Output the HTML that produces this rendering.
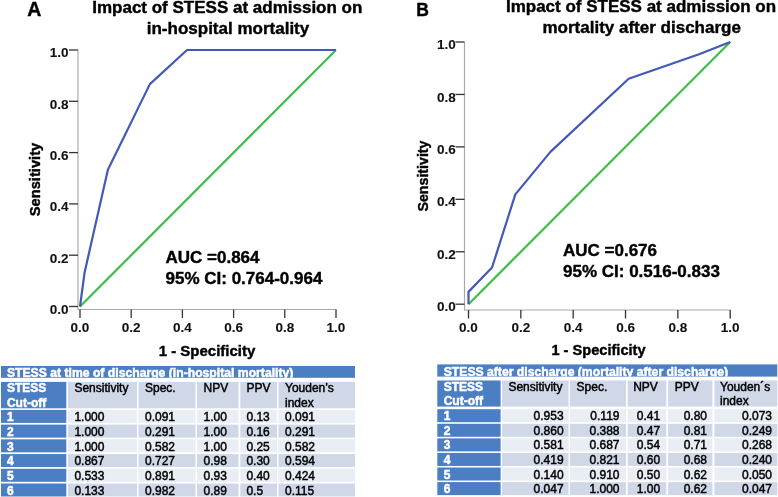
<!DOCTYPE html>
<html><head><meta charset="utf-8"><style>
html,body{margin:0;padding:0;background:#fff;}
body{width:778px;height:497px;overflow:hidden;position:relative;}
svg{display:block;position:absolute;left:0;top:0;filter:blur(0.35px);}
text{font-family:"Liberation Sans",sans-serif;fill:#000;stroke:#000;stroke-width:0.45px;}
.b{font-weight:bold;stroke-width:0.4px;}
.tk{font-weight:bold;font-size:13.5px;fill:#111;stroke:#111;stroke-width:0.1px;}
.tt{font-weight:bold;font-size:12.2px;fill:#fff;stroke:#fff;stroke-width:0.5px;}
.th0{font-weight:bold;font-size:12px;fill:#fff;stroke:#fff;stroke-width:0.5px;}
.td{font-size:12px;fill:#000;}
</style></head><body>
<svg width="778" height="497" viewBox="0 0 778 497">
<path d="M78 50V309.5H336.5" fill="none" stroke="#a8a8a8" stroke-width="1.15"/>
<path d="M69 306.5H78" stroke="#333333" stroke-width="1.3"/>
<text x="68.5" y="313.9" class="tk" text-anchor="end">0.0</text>
<path d="M80 309.5V318" stroke="#333333" stroke-width="1.3"/>
<text x="80" y="332.2" class="tk" text-anchor="middle">0.0</text>
<path d="M69 255.2H78" stroke="#333333" stroke-width="1.3"/>
<text x="68.5" y="262.6" class="tk" text-anchor="end">0.2</text>
<path d="M131.2 309.5V318" stroke="#333333" stroke-width="1.3"/>
<text x="131.2" y="332.2" class="tk" text-anchor="middle">0.2</text>
<path d="M69 203.9H78" stroke="#333333" stroke-width="1.3"/>
<text x="68.5" y="211.3" class="tk" text-anchor="end">0.4</text>
<path d="M182.4 309.5V318" stroke="#333333" stroke-width="1.3"/>
<text x="182.4" y="332.2" class="tk" text-anchor="middle">0.4</text>
<path d="M69 152.6H78" stroke="#333333" stroke-width="1.3"/>
<text x="68.5" y="160" class="tk" text-anchor="end">0.6</text>
<path d="M233.6 309.5V318" stroke="#333333" stroke-width="1.3"/>
<text x="233.6" y="332.2" class="tk" text-anchor="middle">0.6</text>
<path d="M69 101.3H78" stroke="#333333" stroke-width="1.3"/>
<text x="68.5" y="108.7" class="tk" text-anchor="end">0.8</text>
<path d="M284.8 309.5V318" stroke="#333333" stroke-width="1.3"/>
<text x="284.8" y="332.2" class="tk" text-anchor="middle">0.8</text>
<path d="M69 50H78" stroke="#333333" stroke-width="1.3"/>
<text x="68.5" y="57.4" class="tk" text-anchor="end">1.0</text>
<path d="M336 309.5V318" stroke="#333333" stroke-width="1.3"/>
<text x="336" y="332.2" class="tk" text-anchor="middle">1.0</text>
<path d="M80 306.5L336 50" stroke="#3dbd4a" stroke-width="2.2" fill="none"/>
<polyline points="80,306.5 84.61,272.39 107.9,169.79 149.89,84.11 187.01,50 261.5,50 312.7,50 336,50" stroke="#4259b6" stroke-width="2.2" fill="none" stroke-linejoin="round"/>
<text x="27.3" y="16.2" class="b" style="font-size:19.5px">A</text>
<text x="227.3" y="12.8" class="b" style="font-size:17px" text-anchor="middle">Impact of STESS at admission on</text>
<text x="228" y="34.4" class="b" style="font-size:17px" text-anchor="middle">in-hospital mortality</text>
<text x="165.5" y="263.4" class="b" style="font-size:17px">AUC =0.864</text>
<text x="165.5" y="284.4" class="b" style="font-size:17px">95% CI: 0.764-0.964</text>
<text transform="translate(39.8 179.5) rotate(-90)" text-anchor="middle" class="b" style="font-size:14.7px">Sensitivity</text>
<text x="207" y="355.5" text-anchor="middle" class="b" style="font-size:15px">1 - Specificity</text>
<path d="M464.5 42V310H730.7" fill="none" stroke="#a8a8a8" stroke-width="1.15"/>
<path d="M455.5 304.2H464.5" stroke="#333333" stroke-width="1.3"/>
<text x="455.8" y="311.3" class="tk" text-anchor="end">0.0</text>
<path d="M468.5 310V318.5" stroke="#333333" stroke-width="1.3"/>
<text x="468.5" y="332.2" class="tk" text-anchor="middle">0.0</text>
<path d="M455.5 251.76H464.5" stroke="#333333" stroke-width="1.3"/>
<text x="455.8" y="258.86" class="tk" text-anchor="end">0.2</text>
<path d="M520.84 310V318.5" stroke="#333333" stroke-width="1.3"/>
<text x="520.84" y="332.2" class="tk" text-anchor="middle">0.2</text>
<path d="M455.5 199.32H464.5" stroke="#333333" stroke-width="1.3"/>
<text x="455.8" y="206.42" class="tk" text-anchor="end">0.4</text>
<path d="M573.18 310V318.5" stroke="#333333" stroke-width="1.3"/>
<text x="573.18" y="332.2" class="tk" text-anchor="middle">0.4</text>
<path d="M455.5 146.88H464.5" stroke="#333333" stroke-width="1.3"/>
<text x="455.8" y="153.98" class="tk" text-anchor="end">0.6</text>
<path d="M625.52 310V318.5" stroke="#333333" stroke-width="1.3"/>
<text x="625.52" y="332.2" class="tk" text-anchor="middle">0.6</text>
<path d="M455.5 94.44H464.5" stroke="#333333" stroke-width="1.3"/>
<text x="455.8" y="101.54" class="tk" text-anchor="end">0.8</text>
<path d="M677.86 310V318.5" stroke="#333333" stroke-width="1.3"/>
<text x="677.86" y="332.2" class="tk" text-anchor="middle">0.8</text>
<path d="M455.5 42H464.5" stroke="#333333" stroke-width="1.3"/>
<text x="455.8" y="49.1" class="tk" text-anchor="end">1.0</text>
<path d="M730.2 310V318.5" stroke="#333333" stroke-width="1.3"/>
<text x="730.2" y="332.2" class="tk" text-anchor="middle">1.0</text>
<path d="M468.5 304.2L730.2 42" stroke="#3dbd4a" stroke-width="2.2" fill="none"/>
<polyline points="468.5,304.2 468.5,291.88 492.05,267.49 515.34,194.34 550.41,151.86 628.66,78.71 699.06,54.32 730.2,42" stroke="#4259b6" stroke-width="2.2" fill="none" stroke-linejoin="round"/>
<text x="416.3" y="16.4" class="b" style="font-size:17.5px">B</text>
<text x="641" y="12" class="b" style="font-size:17px" text-anchor="middle">Impact of STESS at admission on</text>
<text x="641.7" y="33.2" class="b" style="font-size:17px" text-anchor="middle">mortality after discharge</text>
<text x="563" y="256.2" class="b" style="font-size:17px">AUC =0.676</text>
<text x="563" y="277" class="b" style="font-size:17px">95% CI: 0.516-0.833</text>
<text transform="translate(427.5 176) rotate(-90)" text-anchor="middle" class="b" style="font-size:14.2px">Sensitivity</text>
<text x="598.5" y="355" text-anchor="middle" class="b" style="font-size:14.6px">1 - Specificity</text>
<rect x="1" y="366" width="354" height="11.8" fill="#4b7ec2"/>
<clipPath id="ca"><rect x="1" y="366" width="354" height="11.8"/></clipPath>
<text x="6.9" y="377.2" class="tt" clip-path="url(#ca)">STESS at time of discharge (in-hospital mortality)</text>
<rect x="1" y="381.9" width="65.3" height="26.4" fill="#4b7ec2"/>
<text x="6.9" y="392" class="th0">STESS</text>
<text x="6.9" y="406.6" class="th0">Cut-off</text>
<rect x="68" y="381.9" width="69" height="26.4" fill="#d0d8e8"/>
<text x="74.4" y="392" class="td">Sensitivity</text>
<rect x="138.5" y="381.9" width="57" height="26.4" fill="#d0d8e8"/>
<text x="145" y="392" class="td">Spec.</text>
<rect x="197" y="381.9" width="41.5" height="26.4" fill="#d0d8e8"/>
<text x="203.5" y="392" class="td">NPV</text>
<rect x="240.3" y="381.9" width="36.7" height="26.4" fill="#d0d8e8"/>
<text x="246.4" y="392" class="td">PPV</text>
<rect x="278.5" y="381.9" width="76.5" height="26.4" fill="#d0d8e8"/>
<text x="285" y="392" class="td">Youden&#8217;s</text>
<text x="285" y="406.6" class="td">index</text>
<rect x="1" y="409.9" width="65.3" height="13" fill="#4b7ec2"/>
<text x="6.9" y="421.2" class="th0">1</text>
<rect x="68" y="409.9" width="69" height="13" fill="#e9edf4"/>
<text x="74.4" y="421.2" class="td">1.000</text>
<rect x="138.5" y="409.9" width="57" height="13" fill="#e9edf4"/>
<text x="145" y="421.2" class="td">0.091</text>
<rect x="197" y="409.9" width="41.5" height="13" fill="#e9edf4"/>
<text x="203.5" y="421.2" class="td">1.00</text>
<rect x="240.3" y="409.9" width="36.7" height="13" fill="#e9edf4"/>
<text x="246.4" y="421.2" class="td">0.13</text>
<rect x="278.5" y="409.9" width="76.5" height="13" fill="#e9edf4"/>
<text x="285" y="421.2" class="td">0.091</text>
<rect x="1" y="424.62" width="65.3" height="13" fill="#4b7ec2"/>
<text x="6.9" y="435.92" class="th0">2</text>
<rect x="68" y="424.62" width="69" height="13" fill="#d0d8e8"/>
<text x="74.4" y="435.92" class="td">1.000</text>
<rect x="138.5" y="424.62" width="57" height="13" fill="#d0d8e8"/>
<text x="145" y="435.92" class="td">0.291</text>
<rect x="197" y="424.62" width="41.5" height="13" fill="#d0d8e8"/>
<text x="203.5" y="435.92" class="td">1.00</text>
<rect x="240.3" y="424.62" width="36.7" height="13" fill="#d0d8e8"/>
<text x="246.4" y="435.92" class="td">0.16</text>
<rect x="278.5" y="424.62" width="76.5" height="13" fill="#d0d8e8"/>
<text x="285" y="435.92" class="td">0.291</text>
<rect x="1" y="439.34" width="65.3" height="13" fill="#4b7ec2"/>
<text x="6.9" y="450.64" class="th0">3</text>
<rect x="68" y="439.34" width="69" height="13" fill="#e9edf4"/>
<text x="74.4" y="450.64" class="td">1.000</text>
<rect x="138.5" y="439.34" width="57" height="13" fill="#e9edf4"/>
<text x="145" y="450.64" class="td">0.582</text>
<rect x="197" y="439.34" width="41.5" height="13" fill="#e9edf4"/>
<text x="203.5" y="450.64" class="td">1.00</text>
<rect x="240.3" y="439.34" width="36.7" height="13" fill="#e9edf4"/>
<text x="246.4" y="450.64" class="td">0.25</text>
<rect x="278.5" y="439.34" width="76.5" height="13" fill="#e9edf4"/>
<text x="285" y="450.64" class="td">0.582</text>
<rect x="1" y="454.06" width="65.3" height="13" fill="#4b7ec2"/>
<text x="6.9" y="465.36" class="th0">4</text>
<rect x="68" y="454.06" width="69" height="13" fill="#d0d8e8"/>
<text x="74.4" y="465.36" class="td">0.867</text>
<rect x="138.5" y="454.06" width="57" height="13" fill="#d0d8e8"/>
<text x="145" y="465.36" class="td">0.727</text>
<rect x="197" y="454.06" width="41.5" height="13" fill="#d0d8e8"/>
<text x="203.5" y="465.36" class="td">0.98</text>
<rect x="240.3" y="454.06" width="36.7" height="13" fill="#d0d8e8"/>
<text x="246.4" y="465.36" class="td">0.30</text>
<rect x="278.5" y="454.06" width="76.5" height="13" fill="#d0d8e8"/>
<text x="285" y="465.36" class="td">0.594</text>
<rect x="1" y="468.78" width="65.3" height="13" fill="#4b7ec2"/>
<text x="6.9" y="480.08" class="th0">5</text>
<rect x="68" y="468.78" width="69" height="13" fill="#e9edf4"/>
<text x="74.4" y="480.08" class="td">0.533</text>
<rect x="138.5" y="468.78" width="57" height="13" fill="#e9edf4"/>
<text x="145" y="480.08" class="td">0.891</text>
<rect x="197" y="468.78" width="41.5" height="13" fill="#e9edf4"/>
<text x="203.5" y="480.08" class="td">0.93</text>
<rect x="240.3" y="468.78" width="36.7" height="13" fill="#e9edf4"/>
<text x="246.4" y="480.08" class="td">0.40</text>
<rect x="278.5" y="468.78" width="76.5" height="13" fill="#e9edf4"/>
<text x="285" y="480.08" class="td">0.424</text>
<rect x="1" y="483.5" width="65.3" height="13" fill="#4b7ec2"/>
<text x="6.9" y="494.8" class="th0">6</text>
<rect x="68" y="483.5" width="69" height="13" fill="#d0d8e8"/>
<text x="74.4" y="494.8" class="td">0.133</text>
<rect x="138.5" y="483.5" width="57" height="13" fill="#d0d8e8"/>
<text x="145" y="494.8" class="td">0.982</text>
<rect x="197" y="483.5" width="41.5" height="13" fill="#d0d8e8"/>
<text x="203.5" y="494.8" class="td">0.89</text>
<rect x="240.3" y="483.5" width="36.7" height="13" fill="#d0d8e8"/>
<text x="246.4" y="494.8" class="td">0.5</text>
<rect x="278.5" y="483.5" width="76.5" height="13" fill="#d0d8e8"/>
<text x="285" y="494.8" class="td">0.115</text>
<rect x="437.3" y="364.4" width="340" height="12.2" fill="#4b7ec2"/>
<clipPath id="cb"><rect x="437.3" y="364.4" width="340" height="12.2"/></clipPath>
<text x="443.7" y="376" class="tt" clip-path="url(#cb)">STESS after discharge (mortality after discharge)</text>
<rect x="437.3" y="380.5" width="63.3" height="26.1" fill="#4b7ec2"/>
<text x="443.7" y="390.8" class="th0">STESS</text>
<text x="443.7" y="405" class="th0">Cut-off</text>
<rect x="502" y="380.5" width="66.6" height="26.1" fill="#d0d8e8"/>
<text x="508.4" y="390.8" class="td">Sensitivity</text>
<rect x="570" y="380.5" width="56" height="26.1" fill="#d0d8e8"/>
<text x="576.6" y="390.8" class="td">Spec.</text>
<rect x="627.7" y="380.5" width="38.6" height="26.1" fill="#d0d8e8"/>
<text x="633.2" y="390.8" class="td">NPV</text>
<rect x="668.1" y="380.5" width="44.3" height="26.1" fill="#d0d8e8"/>
<text x="674.8" y="390.8" class="td">PPV</text>
<rect x="714.4" y="380.5" width="62.9" height="26.1" fill="#d0d8e8"/>
<text x="720" y="390.8" class="td">Youden&#180;s</text>
<text x="720" y="405" class="td">index</text>
<rect x="437.3" y="409.2" width="63.3" height="13" fill="#4b7ec2"/>
<text x="443.8" y="420.2" class="th0">1</text>
<rect x="502" y="409.2" width="66.6" height="13" fill="#e9edf4"/>
<text x="563.6" y="420.2" class="td" text-anchor="end">0.953</text>
<rect x="570" y="409.2" width="56" height="13" fill="#e9edf4"/>
<text x="619.5" y="420.2" class="td" text-anchor="end">0.119</text>
<rect x="627.7" y="409.2" width="38.6" height="13" fill="#e9edf4"/>
<text x="660.2" y="420.2" class="td" text-anchor="end">0.41</text>
<rect x="668.1" y="409.2" width="44.3" height="13" fill="#e9edf4"/>
<text x="707" y="420.2" class="td" text-anchor="end">0.80</text>
<rect x="714.4" y="409.2" width="62.9" height="13" fill="#e9edf4"/>
<text x="772" y="420.2" class="td" text-anchor="end">0.073</text>
<rect x="437.3" y="423.78" width="63.3" height="13" fill="#4b7ec2"/>
<text x="443.8" y="434.78" class="th0">2</text>
<rect x="502" y="423.78" width="66.6" height="13" fill="#d0d8e8"/>
<text x="563.6" y="434.78" class="td" text-anchor="end">0.860</text>
<rect x="570" y="423.78" width="56" height="13" fill="#d0d8e8"/>
<text x="619.5" y="434.78" class="td" text-anchor="end">0.388</text>
<rect x="627.7" y="423.78" width="38.6" height="13" fill="#d0d8e8"/>
<text x="660.2" y="434.78" class="td" text-anchor="end">0.47</text>
<rect x="668.1" y="423.78" width="44.3" height="13" fill="#d0d8e8"/>
<text x="707" y="434.78" class="td" text-anchor="end">0.81</text>
<rect x="714.4" y="423.78" width="62.9" height="13" fill="#d0d8e8"/>
<text x="772" y="434.78" class="td" text-anchor="end">0.249</text>
<rect x="437.3" y="438.36" width="63.3" height="13" fill="#4b7ec2"/>
<text x="443.8" y="449.36" class="th0">3</text>
<rect x="502" y="438.36" width="66.6" height="13" fill="#e9edf4"/>
<text x="563.6" y="449.36" class="td" text-anchor="end">0.581</text>
<rect x="570" y="438.36" width="56" height="13" fill="#e9edf4"/>
<text x="619.5" y="449.36" class="td" text-anchor="end">0.687</text>
<rect x="627.7" y="438.36" width="38.6" height="13" fill="#e9edf4"/>
<text x="660.2" y="449.36" class="td" text-anchor="end">0.54</text>
<rect x="668.1" y="438.36" width="44.3" height="13" fill="#e9edf4"/>
<text x="707" y="449.36" class="td" text-anchor="end">0.71</text>
<rect x="714.4" y="438.36" width="62.9" height="13" fill="#e9edf4"/>
<text x="772" y="449.36" class="td" text-anchor="end">0.268</text>
<rect x="437.3" y="452.94" width="63.3" height="13" fill="#4b7ec2"/>
<text x="443.8" y="463.94" class="th0">4</text>
<rect x="502" y="452.94" width="66.6" height="13" fill="#d0d8e8"/>
<text x="563.6" y="463.94" class="td" text-anchor="end">0.419</text>
<rect x="570" y="452.94" width="56" height="13" fill="#d0d8e8"/>
<text x="619.5" y="463.94" class="td" text-anchor="end">0.821</text>
<rect x="627.7" y="452.94" width="38.6" height="13" fill="#d0d8e8"/>
<text x="660.2" y="463.94" class="td" text-anchor="end">0.60</text>
<rect x="668.1" y="452.94" width="44.3" height="13" fill="#d0d8e8"/>
<text x="707" y="463.94" class="td" text-anchor="end">0.68</text>
<rect x="714.4" y="452.94" width="62.9" height="13" fill="#d0d8e8"/>
<text x="772" y="463.94" class="td" text-anchor="end">0.240</text>
<rect x="437.3" y="467.52" width="63.3" height="13" fill="#4b7ec2"/>
<text x="443.8" y="478.52" class="th0">5</text>
<rect x="502" y="467.52" width="66.6" height="13" fill="#e9edf4"/>
<text x="563.6" y="478.52" class="td" text-anchor="end">0.140</text>
<rect x="570" y="467.52" width="56" height="13" fill="#e9edf4"/>
<text x="619.5" y="478.52" class="td" text-anchor="end">0.910</text>
<rect x="627.7" y="467.52" width="38.6" height="13" fill="#e9edf4"/>
<text x="660.2" y="478.52" class="td" text-anchor="end">0.50</text>
<rect x="668.1" y="467.52" width="44.3" height="13" fill="#e9edf4"/>
<text x="707" y="478.52" class="td" text-anchor="end">0.62</text>
<rect x="714.4" y="467.52" width="62.9" height="13" fill="#e9edf4"/>
<text x="772" y="478.52" class="td" text-anchor="end">0.050</text>
<rect x="437.3" y="482.1" width="63.3" height="13" fill="#4b7ec2"/>
<text x="443.8" y="493.1" class="th0">6</text>
<rect x="502" y="482.1" width="66.6" height="13" fill="#d0d8e8"/>
<text x="563.6" y="493.1" class="td" text-anchor="end">0.047</text>
<rect x="570" y="482.1" width="56" height="13" fill="#d0d8e8"/>
<text x="619.5" y="493.1" class="td" text-anchor="end">1.000</text>
<rect x="627.7" y="482.1" width="38.6" height="13" fill="#d0d8e8"/>
<text x="660.2" y="493.1" class="td" text-anchor="end">1.00</text>
<rect x="668.1" y="482.1" width="44.3" height="13" fill="#d0d8e8"/>
<text x="707" y="493.1" class="td" text-anchor="end">0.62</text>
<rect x="714.4" y="482.1" width="62.9" height="13" fill="#d0d8e8"/>
<text x="772" y="493.1" class="td" text-anchor="end">0.047</text>
</svg>
</body></html>
